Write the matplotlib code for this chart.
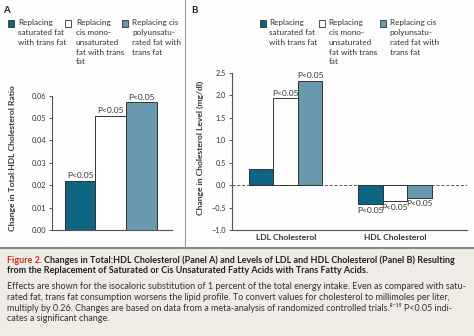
import matplotlib.pyplot as plt
from matplotlib.patches import Rectangle
from matplotlib.lines import Line2D
import numpy as np

plt.rcParams['font.family'] = ['Lato', 'DejaVu Sans']

W, H = 474, 336

# ===============================
# data
# ===============================
series_labels = [
    "Replacing\nsaturated fat\nwith trans fat",
    "Replacing\ncis mono-\nunsaturated\nfat with trans\nfat",
    "Replacing cis\npolyunsatu-\nrated fat with\ntrans fat",
]
bar_colors = ["#0f6682", "#ffffff", "#6899ae"]

# panel A: change in total:HDL ratio
ratio_change = [0.022, 0.051, 0.057]
ratio_sig = ["P<0.05", "P<0.05", "P<0.05"]

# panel B: change in LDL / HDL level (mg/dl)
lipid_groups = ["LDL Cholesterol", "HDL Cholesterol"]
ldl_change = [0.35, 1.93, 2.32]
hdl_change = [-0.43, -0.35, -0.28]
ldl_sig = ["", "P<0.05", "P<0.05"]
hdl_sig = ["P<0.05", "P<0.05", "P<0.05"]

caption_head = ("Changes in Total:HDL Cholesterol (Panel A) and Levels of LDL and HDL Cholesterol (Panel B) Resulting",
                "from the Replacement of Saturated or Cis Unsaturated Fatty Acids with Trans Fatty Acids.")
caption_body = [
    "Effects are shown for the isocaloric substitution of 1 percent of the total energy intake. Even as compared with satu-",
    "rated fat, trans fat consumption worsens the lipid profile. To convert values for cholesterol to millimoles per liter,",
    "multiply by 0.26. Changes are based on data from a meta-analysis of randomized controlled trials.\u2078\u207b\u00b9\u2079 P<0.05 indi-",
    "cates a significant change.",
]

TXT = "#333333"
EDGE = "#333333"
SPINE = "#555555"
CAP_FS = 6.5


def px_axes(fig, x0, y0, x1, y1):
    # pixel box, y measured from the top
    return fig.add_axes([x0 / W, 1 - y1 / H, (x1 - x0) / W, (y1 - y0) / H])


def fx(x):
    return x / W


def fy(y):
    return 1 - y / H


def style_axes(ax):
    ax.set_facecolor("none")
    for s in ["top", "right"]:
        ax.spines[s].set_visible(False)
    for s in ["left", "bottom"]:
        ax.spines[s].set_color(SPINE)
        ax.spines[s].set_linewidth(0.8)
    ax.tick_params(axis="y", length=2.5, width=0.7, color=SPINE,
                   labelsize=5.3, labelcolor=TXT, pad=1.5)


fig = plt.figure(figsize=(W / 100, H / 100), dpi=100)
fig.patch.set_facecolor("#fdfdfd")

# caption background + frame lines
fig.patches.append(Rectangle((0, 0), 1, fy(248), transform=fig.transFigure,
                             facecolor="#efece6", edgecolor="none", zorder=0))
fig.lines.append(Line2D([0, 1], [fy(248), fy(248)], transform=fig.transFigure,
                        color="#8a8a8a", lw=1.5))
fig.lines.append(Line2D([fx(184.5), fx(184.5)], [fy(248), 1], transform=fig.transFigure,
                        color="#9a9a9a", lw=0.8))

# ===============================
# Panel A
# ===============================
axA = px_axes(fig, 52, 95.6, 172, 230)
style_axes(axA)
xa = np.arange(len(ratio_change))
axA.bar(xa, ratio_change, width=1.0, color=bar_colors, edgecolor=EDGE, linewidth=0.7)
axA.set_xlim(-0.92, 3.0)
axA.set_ylim(0, 0.06)
axA.set_yticks(np.arange(0, 0.061, 0.01))
axA.set_yticklabels([f"{v:.2f}" for v in np.arange(0, 0.061, 0.01)])
axA.set_xticks([])
for xi, v, s in zip(xa, ratio_change, ratio_sig):
    axA.annotate(s, (xi, v), xytext=(0, 1.2), textcoords="offset points",
                 ha="center", va="bottom", fontsize=6, color=TXT)

fig.text(fx(13), fy(158), "Change in Total:HDL Cholesterol Ratio", rotation=90,
         ha="center", va="center", fontsize=6.1, fontweight="bold", color=TXT)

# ===============================
# Panel B
# ===============================
axB = px_axes(fig, 231.7, 72.7, 467, 230)
style_axes(axB)
xb = np.arange(len(lipid_groups))
bw = 0.224
for i in range(3):
    vals = [ldl_change[i], hdl_change[i]]
    axB.bar(xb + (i - 1) * bw, vals, width=bw, color=bar_colors[i],
            edgecolor=EDGE, linewidth=0.7, zorder=2)
axB.axhline(0, color="#555555", lw=0.7, ls=(0, (3, 2)), zorder=1)
for i in range(3):
    if ldl_sig[i]:
        axB.annotate(ldl_sig[i], (xb[0] + (i - 1) * bw, ldl_change[i]), xytext=(0, 1.2),
                     textcoords="offset points", ha="center", va="bottom",
                     fontsize=6, color=TXT)
    if hdl_sig[i]:
        axB.annotate(hdl_sig[i], (xb[1] + (i - 1) * bw, hdl_change[i]), xytext=(0, -2),
                     textcoords="offset points", ha="center", va="top",
                     fontsize=6, color=TXT)
axB.set_xlim(-0.494, 1.659)
axB.set_ylim(-1.0, 2.5)
yt = np.arange(-1.0, 2.51, 0.5)
axB.set_yticks(yt)
axB.set_yticklabels([f"{v:.1f}".replace("-", "\u2212") for v in yt])
axB.set_xticks(xb)
axB.set_xticklabels(lipid_groups, fontsize=6.1, fontweight="bold", color=TXT)
axB.tick_params(axis="x", length=0, pad=3)

fig.text(fx(200.7), fy(148), "Change in Cholesterol Level (mg/dl)", rotation=90,
         ha="center", va="center", fontsize=6.1, fontweight="bold", color=TXT)

# ===============================
# legends + panel letters
# ===============================
legend_pos = {
    "A": ([8, 65, 122], [18, 76, 132]),
    "B": ([259.7, 318.7, 380.3], [269, 328.7, 389.7]),
}
for sq_x, tx_x in legend_pos.values():
    for c, lab, sx, tx in zip(bar_colors, series_labels, sq_x, tx_x):
        fig.patches.append(Rectangle((fx(sx), fy(26.5)), 6 / W, 6 / H, transform=fig.transFigure,
                                     facecolor=c, edgecolor=EDGE, linewidth=0.6))
        fig.text(fx(tx), fy(19.5), lab, ha="left", va="top", fontsize=5.9,
                 linespacing=1.45, color=TXT)

fig.text(fx(3), fy(10.5), "A", ha="left", va="center", fontsize=7, fontweight="bold", color="#222222")
fig.text(fx(191.5), fy(10.5), "B", ha="left", va="center", fontsize=7, fontweight="bold", color="#222222")

# ===============================
# caption
# ===============================
fig.canvas.draw()
red = fig.text(fx(7), fy(260.7), "Figure 2.", ha="left", va="center", fontsize=CAP_FS,
               fontweight="bold", color="#d42a20")
fig.canvas.draw()
bb = red.get_window_extent()
fig.text(bb.x1 / W + 2.5 / W, fy(260.7), caption_head[0], ha="left", va="center",
         fontsize=CAP_FS, fontweight="bold", color="#222222")
fig.text(fx(7), fy(270.7), caption_head[1], ha="left", va="center",
         fontsize=CAP_FS, fontweight="bold", color="#222222")
for k, line in enumerate(caption_body):
    fig.text(fx(7), fy(286.7 + 10.6 * k), line, ha="left", va="center",
             fontsize=CAP_FS, color="#333333")

fig.savefig("out.png", dpi=100, facecolor=fig.get_facecolor())
